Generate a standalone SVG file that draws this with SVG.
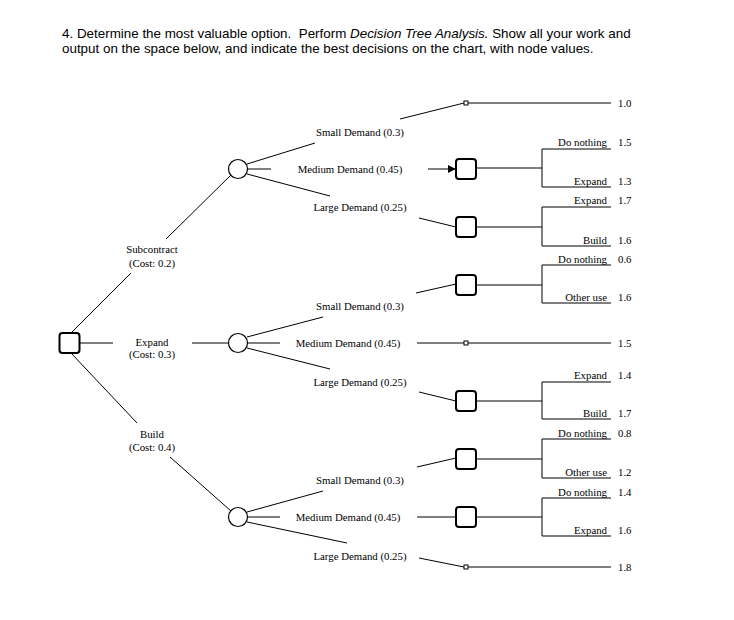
<svg xmlns="http://www.w3.org/2000/svg" width="734" height="620" viewBox="0 0 734 620">
<style>
.title{font-family:"Liberation Sans",Arial,sans-serif;font-size:13.4px;fill:#000}
.t{font-family:"Liberation Serif","Times New Roman",serif;font-size:10.8px;fill:#000}
.m{text-anchor:middle}
.e{text-anchor:end}
.ln{stroke:#000;stroke-width:1;fill:none}
.dec{fill:#fff;stroke:#000;stroke-width:2}
.ch{fill:#fff;stroke:#000;stroke-width:1.2}
.end{fill:#fff;stroke:#000;stroke-width:1}
</style>
<defs>
<marker id="arr" viewBox="0 0 10 10" refX="9" refY="5" markerWidth="8" markerHeight="8" markerUnits="userSpaceOnUse" orient="auto">
<path d="M0,0 L10,5 L0,10 z" fill="#000"/>
</marker>
</defs>
<rect width="734" height="620" fill="#fff"/>
<text class="title" x="62" y="38">4. Determine the most valuable option.&#160; Perform <tspan font-style="italic">Decision Tree Analysis.</tspan> Show all your work and</text>
<text class="title" x="62" y="53">output on the space below, and indicate the best decisions on the chart, with node values.</text>

<g id="connectors">
<!-- root branches -->
<line class="ln" x1="71" y1="333" x2="131" y2="273"/>
<line class="ln" x1="166" y1="239" x2="231" y2="175"/>
<line class="ln" x1="79" y1="343" x2="113" y2="343"/>
<line class="ln" x1="192" y1="343" x2="228" y2="343"/>
<line class="ln" x1="71" y1="353" x2="137" y2="423"/>
<line class="ln" x1="170" y1="457" x2="231" y2="511"/>
<!-- subcontract chance branches -->
<line class="ln" x1="247" y1="164" x2="315" y2="143"/>
<line class="ln" x1="400" y1="119" x2="464" y2="103"/>
<line class="ln" x1="248" y1="169" x2="271" y2="169"/>
<line class="ln" x1="428" y1="169" x2="455" y2="169" marker-end="url(#arr)"/>
<line class="ln" x1="247" y1="174" x2="330" y2="196"/>
<line class="ln" x1="419" y1="218" x2="456" y2="227"/>
<!-- expand chance branches -->
<line class="ln" x1="247" y1="337" x2="323" y2="317"/>
<line class="ln" x1="416" y1="293" x2="456" y2="284"/>
<line class="ln" x1="248" y1="343" x2="280" y2="343"/>
<line class="ln" x1="417" y1="343" x2="464" y2="343"/>
<line class="ln" x1="247" y1="348" x2="330" y2="369"/>
<line class="ln" x1="419" y1="392" x2="456" y2="401"/>
<!-- build chance branches -->
<line class="ln" x1="247" y1="512" x2="323" y2="491"/>
<line class="ln" x1="417" y1="467" x2="456" y2="458"/>
<line class="ln" x1="248" y1="517" x2="280" y2="517"/>
<line class="ln" x1="417" y1="517" x2="456" y2="517"/>
<line class="ln" x1="247" y1="522" x2="347" y2="543"/>
<line class="ln" x1="419" y1="558" x2="464" y2="567"/>
<!-- terminal lines -->
<line class="ln" x1="468" y1="103" x2="611" y2="103"/>
<line class="ln" x1="468" y1="343" x2="611" y2="343"/>
<line class="ln" x1="468" y1="567" x2="611" y2="567"/>
<!-- brackets -->
<path class="ln" d="M476,168 H542 M611,149 H542 V187 H611"/>
<path class="ln" d="M476,227 H542 M611,207 H542 V246 H611"/>
<path class="ln" d="M476,285 H542 M611,265 H542 V303 H611"/>
<path class="ln" d="M476,401 H542 M611,382 H542 V419 H611"/>
<path class="ln" d="M476,459 H542 M611,439 H542 V478 H611"/>
<path class="ln" d="M476,517 H542 M611,498 H542 V536 H611"/>
</g>

<g id="root"><rect class="dec" x="59.5" y="333" width="20" height="20" rx="3"/></g>
<g id="lbl-subcontract"><text class="t m" x="152" y="253">Subcontract</text><text class="t m" x="152" y="267">(Cost: 0.2)</text></g>
<g id="lbl-expand"><text class="t m" x="152" y="346">Expand</text><text class="t m" x="152" y="358">(Cost: 0.3)</text></g>
<g id="lbl-build"><text class="t m" x="152" y="438">Build</text><text class="t m" x="152" y="451">(Cost: 0.4)</text></g>

<g id="chance-sub"><circle class="ch" cx="238" cy="169" r="9.5"/>
<text class="t m" x="360" y="136">Small Demand (0.3)</text>
<text class="t m" x="350" y="173">Medium Demand (0.45)</text>
<text class="t m" x="360" y="211">Large Demand (0.25)</text></g>
<g id="chance-exp"><circle class="ch" cx="238" cy="343" r="9.5"/>
<text class="t m" x="360" y="310">Small Demand (0.3)</text>
<text class="t m" x="348" y="347">Medium Demand (0.45)</text>
<text class="t m" x="360" y="386">Large Demand (0.25)</text></g>
<g id="chance-build"><circle class="ch" cx="238" cy="517" r="9.5"/>
<text class="t m" x="360" y="484">Small Demand (0.3)</text>
<text class="t m" x="348" y="521">Medium Demand (0.45)</text>
<text class="t m" x="360" y="560">Large Demand (0.25)</text></g>

<g id="end-1"><rect class="end" x="464" y="101" width="4" height="4"/><text class="t" x="618" y="107">1.0</text></g>
<g id="dec-sub-med"><rect class="dec" x="456" y="159" width="20" height="20" rx="3"/>
<text class="t e" x="607" y="146">Do nothing</text><text class="t" x="618" y="146">1.5</text>
<text class="t e" x="607" y="185">Expand</text><text class="t" x="618" y="185">1.3</text></g>
<g id="dec-sub-large"><rect class="dec" x="456" y="217" width="20" height="20" rx="3"/>
<text class="t e" x="607" y="204">Expand</text><text class="t" x="618" y="204">1.7</text>
<text class="t e" x="607" y="244">Build</text><text class="t" x="618" y="244">1.6</text></g>
<g id="dec-exp-small"><rect class="dec" x="456" y="275" width="20" height="20" rx="3"/>
<text class="t e" x="607" y="263">Do nothing</text><text class="t" x="618" y="263">0.6</text>
<text class="t e" x="607" y="301">Other use</text><text class="t" x="618" y="301">1.6</text></g>
<g id="end-2"><rect class="end" x="464" y="341" width="4" height="4"/><text class="t" x="618" y="347">1.5</text></g>
<g id="dec-exp-large"><rect class="dec" x="456" y="391" width="20" height="20" rx="3"/>
<text class="t e" x="607" y="379">Expand</text><text class="t" x="618" y="379">1.4</text>
<text class="t e" x="607" y="417">Build</text><text class="t" x="618" y="417">1.7</text></g>
<g id="dec-build-small"><rect class="dec" x="456" y="449" width="20" height="20" rx="3"/>
<text class="t e" x="607" y="437">Do nothing</text><text class="t" x="618" y="437">0.8</text>
<text class="t e" x="607" y="476">Other use</text><text class="t" x="618" y="476">1.2</text></g>
<g id="dec-build-med"><rect class="dec" x="456" y="507" width="20" height="20" rx="3"/>
<text class="t e" x="607" y="496">Do nothing</text><text class="t" x="618" y="496">1.4</text>
<text class="t e" x="607" y="534">Expand</text><text class="t" x="618" y="534">1.6</text></g>
<g id="end-3"><rect class="end" x="464" y="565" width="4" height="4"/><text class="t" x="618" y="571">1.8</text></g>
</svg>
